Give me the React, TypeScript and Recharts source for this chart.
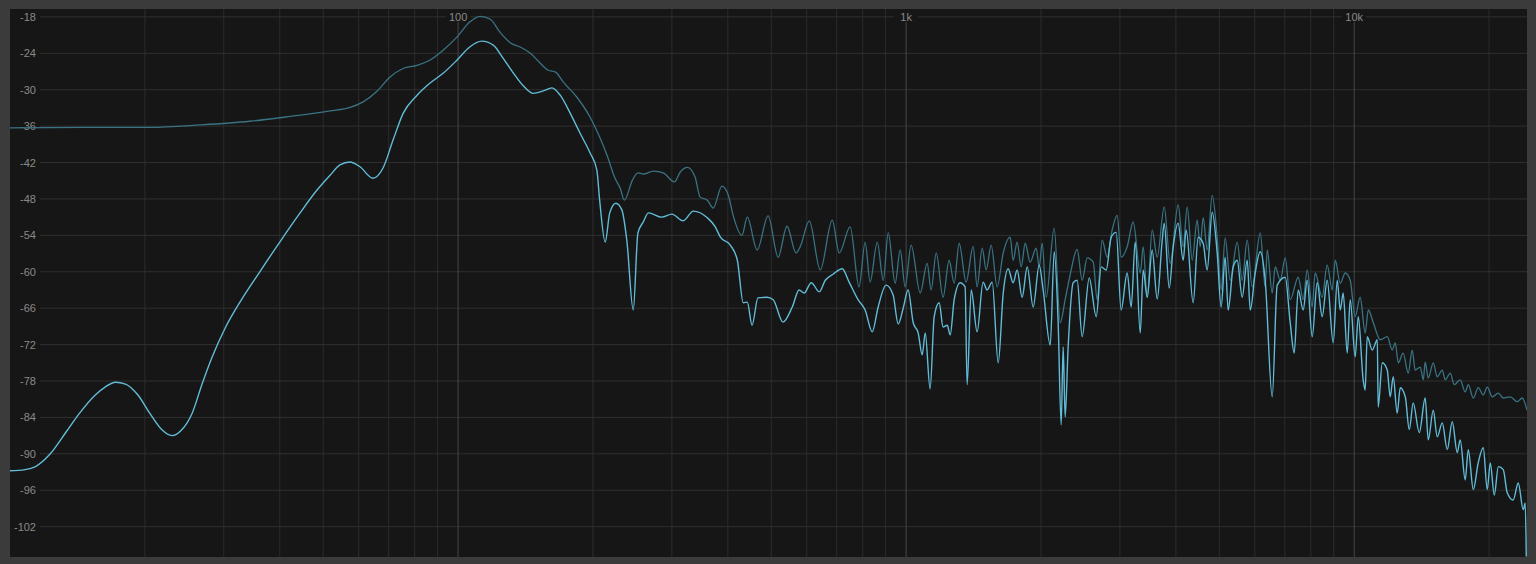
import React from 'react';
import { ComposedChart, Line, XAxis, YAxis, ReferenceLine, CartesianGrid } from 'recharts';

// ---- axis ranges ----
const FREQ_DOMAIN = [10, 24300];
const DB_DOMAIN = [-107, -16.7];

// ---- tick labels / grid values ----
const DB_TICKS = [-18, -24, -30, -36, -42, -48, -54, -60, -66, -72, -78, -84, -90, -96, -102];
const MAJOR_FREQS = [100, 1000, 10000];
const MAJOR_FREQ_LABELS = ['100', '1k', '10k'];
const MINOR_FREQS = [
  20, 30, 40, 50, 60, 70, 80, 90,
  200, 300, 400, 500, 600, 700, 800, 900,
  2000, 3000, 4000, 5000, 6000, 7000, 8000, 9000,
  20000,
];

// ---- current spectrum (bright line) ----
const CURRENT_HZ = [
  10, 10.8, 11.4, 12.3, 13.4, 14.3, 15.5, 16.3, 17.2, 18.1,
  19.3, 20.5, 21.8, 23.0, 24.2, 25.5, 26.8, 28.2, 30.2, 32.6,
  36.1, 40.0, 44.4, 48.0, 51.8, 54.5, 57.4, 60.4, 64.6, 68.0,
  71.6, 75.4, 81.0, 86.6, 92.6, 99.5, 106, 113, 120, 126,
  133, 140, 147, 155, 162, 169, 178, 187, 197, 204,
  207, 213, 218, 225, 232, 238, 246, 252, 259, 266,
  285, 300, 318, 335, 360, 375, 385, 405, 420, 433,
  442, 453, 467, 489, 505, 531, 557, 577, 592, 614,
  640, 660, 687, 720, 746, 781, 810, 840, 866, 902,
  935, 960, 985, 1010, 1037, 1064, 1086, 1103, 1131, 1155,
  1185, 1209, 1235, 1254, 1280, 1320, 1354, 1368, 1397, 1440,
  1485, 1516, 1556, 1605, 1647, 1689, 1733, 1769, 1815, 1863,
  1921, 1981, 2022, 2097, 2140, 2184, 2218, 2241, 2264, 2299,
  2359, 2408, 2471, 2562, 2656, 2725, 2796, 2868, 2943, 3019,
  3113, 3179, 3245, 3330, 3381, 3451, 3541, 3633, 3728, 3767,
  3865, 3945, 4046, 4152, 4217, 4371, 4485, 4601, 4697, 4820,
  4945, 5047, 5152, 5232, 5370, 5481, 5623, 5770, 5861, 6012,
  6169, 6329, 6561, 6731, 7015, 7197, 7346, 7499, 7694, 7853,
  8058, 8267, 8482, 8703, 8976, 9165, 9307, 9450, 9647, 9797,
  10050, 10210, 10470, 10580, 10690, 10970, 11260, 11310, 11550, 11850,
  12030, 12220, 12470, 12670, 13000, 13270, 13540, 13970, 14400, 14630,
  15010, 15320, 15720, 16130, 16550, 16980, 17240, 17690, 17970, 18440,
  18910, 19410, 19810, 20120, 20540, 20970, 21510, 21950, 22640, 23230,
  23840, 24080, 24210,
];
const CURRENT_DB = [
  -92.8, -92.6, -92.1, -90.0, -86.2, -83.3, -80.3, -79.0, -78.2, -78.5,
  -80.3, -83.3, -86.0, -87.0, -86.0, -83.3, -78.6, -74.2, -69.3, -65.0,
  -60.0, -55.1, -50.3, -46.9, -44.1, -42.4, -41.9, -42.7, -44.6, -42.9,
  -38.3, -33.9, -30.9, -28.9, -27.3, -25.1, -23.0, -22.0, -22.7, -24.8,
  -27.3, -29.4, -30.6, -30.2, -29.7, -30.9, -33.9, -37.1, -40.4, -43.2,
  -48.2, -55.1, -50.3, -48.7, -49.8, -54.8, -66.3, -53.6, -51.8, -50.3,
  -51.0, -50.5, -51.6, -50.0, -51.1, -52.6, -54.3, -55.6, -58.1, -65.1,
  -65.0, -68.8, -64.3, -64.2, -64.6, -68.3, -65.8, -63.0, -63.5, -61.8,
  -63.3, -61.4, -60.4, -59.5, -61.7, -64.6, -66.3, -69.9, -65.8, -62.2,
  -63.8, -68.6, -66.0, -63.0, -68.4, -70.1, -73.7, -70.1, -79.3, -67.4,
  -65.1, -69.1, -68.8, -70.4, -64.6, -61.8, -62.5, -78.6, -63.0, -69.9,
  -61.7, -63.0, -61.7, -75.0, -63.5, -59.5, -61.8, -59.7, -64.2, -59.2,
  -65.8, -58.9, -63.0, -72.1, -56.7, -68.4, -85.2, -72.4, -83.9, -72.4,
  -61.8, -61.4, -70.7, -61.0, -67.4, -59.2, -59.7, -54.3, -53.5, -66.3,
  -60.2, -65.8, -55.1, -70.1, -59.7, -64.2, -56.4, -64.5, -54.8, -52.0,
  -62.7, -55.9, -52.0, -58.1, -53.1, -65.1, -54.3, -55.3, -59.7, -50.2,
  -56.9, -65.8, -57.6, -66.3, -59.2, -58.1, -64.2, -58.1, -66.3, -60.2,
  -56.7, -61.4, -80.6, -62.2, -60.9, -68.4, -73.4, -63.0, -66.3, -61.4,
  -70.7, -61.8, -67.4, -61.4, -71.7, -61.4, -66.3, -63.5, -73.4, -64.6,
  -74.0, -67.4, -77.8, -79.5, -70.7, -72.9, -71.2, -82.3, -75.0, -76.2,
  -80.6, -77.3, -83.3, -79.1, -80.6, -86.0, -81.6, -86.5, -80.8, -87.7,
  -82.8, -87.2, -84.9, -89.3, -84.7, -89.8, -87.7, -94.3, -89.3, -95.9,
  -91.5, -89.0, -95.9, -91.5, -96.8, -92.1, -92.6, -96.4, -97.6, -94.8,
  -99.2, -98.1, -106.9,
];

// ---- peak-hold spectrum (dark line) ----
const PEAK_HZ = [
  10, 15.9, 20.5, 26.6, 34.3, 42.2, 51.8, 57.4, 61.4, 66.0,
  70.5, 75.4, 81.0, 86.6, 92.6, 99.5, 106, 112, 118, 124,
  131, 138, 145, 152, 159, 165, 172, 184, 197, 207,
  215, 224, 230, 235, 245, 252, 259, 273, 287, 304,
  313, 325, 338, 347, 360, 371, 388, 401, 411, 430,
  442, 465, 492, 518, 542, 568, 580, 608, 643, 684,
  709, 750, 785, 810, 831, 862, 889, 912, 945, 970,
  995, 1026, 1075, 1114, 1137, 1167, 1209, 1247, 1280, 1313,
  1361, 1411, 1440, 1478, 1509, 1548, 1596, 1647, 1707, 1733,
  1769, 1806, 1844, 1891, 1951, 1981, 2012, 2054, 2140, 2207,
  2264, 2323, 2408, 2471, 2535, 2615, 2669, 2738, 2810, 2883,
  2958, 3019, 3113, 3212, 3330, 3381, 3451, 3541, 3633, 3767,
  3884, 4046, 4152, 4239, 4349, 4462, 4532, 4601, 4697, 4820,
  4945, 5047, 5152, 5286, 5481, 5623, 5770, 5920, 6169, 6329,
  6395, 6561, 6665, 6837, 7015, 7197, 7499, 7694, 7853, 8058,
  8182, 8482, 8703, 8931, 9071, 9307, 9548, 9797, 10050, 10310,
  10580, 10750, 11030, 11430, 11850, 12160, 12350, 12540, 12860, 13200,
  13470, 13680, 14040, 14260, 14400, 14630, 15010, 15320, 15720, 15960,
  16380, 16720, 17240, 17690, 17970, 18440, 18910, 19410, 19810, 20330,
  20970, 21510, 22290, 23110, 23710, 24300,
];
const PEAK_DB = [
  -36.3, -36.2, -36.2, -35.8, -35.2, -34.4, -33.5, -32.9, -32.0, -30.2,
  -27.9, -26.5, -26.0, -25.1, -23.5, -21.3, -18.9, -17.9, -18.4, -20.5,
  -22.3, -23.0, -24.0, -25.5, -26.8, -27.1, -28.8, -31.2, -34.5, -37.8,
  -40.8, -44.6, -46.2, -48.2, -44.9, -43.7, -43.9, -43.4, -43.7, -45.2,
  -43.6, -42.8, -44.4, -47.7, -48.2, -49.5, -45.9, -47.4, -50.7, -54.0,
  -51.0, -56.4, -50.8, -57.6, -52.5, -56.9, -55.9, -51.6, -59.7, -51.5,
  -56.9, -52.6, -62.5, -55.1, -61.7, -55.1, -61.4, -53.6, -61.9, -56.4,
  -62.5, -55.6, -63.5, -58.6, -63.0, -56.9, -64.2, -58.1, -61.9, -55.3,
  -61.7, -55.8, -62.5, -56.1, -59.7, -55.6, -62.5, -56.9, -54.3, -58.1,
  -55.1, -59.2, -55.3, -58.4, -56.1, -59.2, -55.3, -64.2, -52.8, -68.4,
  -64.6, -60.5, -56.3, -61.4, -57.7, -58.4, -64.6, -54.8, -57.6, -53.1,
  -50.7, -57.6, -55.9, -51.8, -60.2, -55.9, -64.2, -53.1, -57.6, -49.3,
  -58.6, -49.0, -55.9, -49.3, -58.1, -51.5, -55.9, -51.1, -56.4, -47.4,
  -54.3, -63.0, -54.4, -61.4, -55.1, -61.4, -54.8, -62.5, -53.6, -62.5,
  -56.4, -63.5, -59.2, -61.4, -57.7, -64.6, -60.9, -64.6, -59.7, -65.8,
  -60.2, -64.2, -58.9, -63.0, -58.1, -61.9, -60.2, -61.4, -67.4, -64.2,
  -70.1, -66.3, -68.4, -71.2, -70.7, -72.9, -71.7, -75.0, -73.4, -76.7,
  -72.9, -76.2, -75.7, -77.8, -74.9, -77.5, -75.0, -77.3, -76.2, -77.8,
  -76.7, -78.6, -77.8, -79.8, -78.6, -80.8, -79.1, -80.3, -79.0, -80.6,
  -80.0, -80.8, -80.6, -81.4, -80.8, -82.8,
];

// ---- styles ----
const FRAME_BG = '#3b3b3b';
const PLOT_BG = '#161616';
const GRID_H = '#303030';
const GRID_MINOR = '#2c2c2c';
const GRID_MAJOR = '#464646';
const LABEL_COLOR = '#8a8a8a';
const CURRENT_COLOR = '#62bcd8';
const PEAK_COLOR = '#3a7383';
const FONT = '"Liberation Sans", Arial, Helvetica, sans-serif';

const currentData = CURRENT_HZ.map((hz, i) => ({ hz, db: CURRENT_DB[i] }));
const peakData = PEAK_HZ.map((hz, i) => ({ hz, db: PEAK_DB[i] }));

function DbLabel(props: any) {
  const { viewBox, text } = props;
  if (!viewBox) return null;
  const x = viewBox.x;
  const y = viewBox.y;
  return (
    <g>
      <rect x={x} y={y - 6} width={30} height={12} fill={PLOT_BG} />
      <text
        x={x + 26}
        y={y}
        textAnchor="end"
        dominantBaseline="central"
        fontSize={11}
        fontFamily={FONT}
        fill={LABEL_COLOR}
      >
        {text}
      </text>
    </g>
  );
}

function FreqLabel(props: any) {
  const { viewBox, text } = props;
  if (!viewBox) return null;
  const cx = viewBox.x;
  const top = viewBox.y;
  return (
    <g>
      <rect x={cx - 12} y={top} width={24} height={13} fill={PLOT_BG} />
      <text
        x={cx}
        y={top + 8}
        textAnchor="middle"
        dominantBaseline="central"
        fontSize={11}
        fontFamily={FONT}
        fill={LABEL_COLOR}
      >
        {text}
      </text>
    </g>
  );
}

export default function App() {
  return (
    <div
      style={{
        position: 'absolute',
        left: 0,
        top: 0,
        width: 1536,
        height: 564,
        background: FRAME_BG,
      }}
    >
      <ComposedChart
        width={1536}
        height={564}
        margin={{ top: 9, right: 9, bottom: 7, left: 10 }}
      >
        <CartesianGrid horizontal={false} vertical={false} fill={PLOT_BG} stroke="none" />
        <XAxis
          type="number"
          dataKey="hz"
          scale="log"
          domain={FREQ_DOMAIN}
          allowDataOverflow
          hide
        />
        <YAxis type="number" domain={DB_DOMAIN} allowDataOverflow hide />
        {MINOR_FREQS.map((f) => (
          <ReferenceLine key={'mf' + f} x={f} stroke={GRID_MINOR} strokeWidth={1} />
        ))}
        {DB_TICKS.map((v) => (
          <ReferenceLine
            key={'db' + v}
            y={v}
            stroke={GRID_H}
            strokeWidth={1}
            label={<DbLabel text={String(v)} />}
          />
        ))}
        {MAJOR_FREQS.map((f, i) => (
          <ReferenceLine
            key={'Mf' + f}
            x={f}
            stroke={GRID_MAJOR}
            strokeWidth={1}
            label={<FreqLabel text={MAJOR_FREQ_LABELS[i]} />}
          />
        ))}
        <Line
          data={peakData}
          dataKey="db"
          type="monotone"
          stroke={PEAK_COLOR}
          strokeWidth={1.3}
          dot={false}
          activeDot={false}
          isAnimationActive={false}
        />
        <Line
          data={currentData}
          dataKey="db"
          type="monotone"
          stroke={CURRENT_COLOR}
          strokeWidth={1.4}
          dot={false}
          activeDot={false}
          isAnimationActive={false}
        />
      </ComposedChart>
    </div>
  );
}
